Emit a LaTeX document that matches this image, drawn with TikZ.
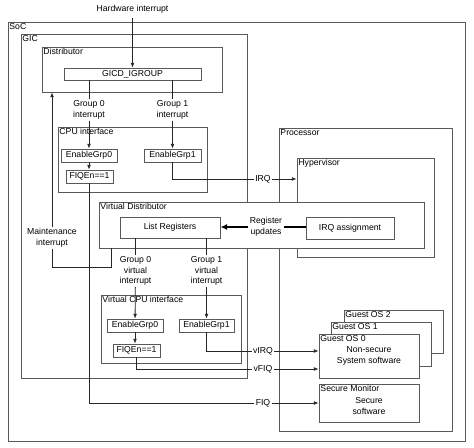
\documentclass[tikz,border=0pt]{standalone}
\usepackage{fontspec}
\setmainfont{Liberation Sans}
\usetikzlibrary{arrows.meta}

\tikzset{
  box/.style={draw=black!65, line width=0.6pt, fill=white, inner sep=0pt, align=center},
  boxtitle/.style={anchor=north west, inner sep=1.2pt},
  sig/.style={fill=white, inner sep=1pt, align=center},
  wire/.style={draw=black!85, line width=0.6pt},
  arr/.style={-{Latex[length=3.5pt,width=2.8pt]}},
}

\begin{document}
\begin{tikzpicture}[x=0.75pt,y=0.75pt,yscale=-1,xscale=1,
  every node/.style={font=\fontsize{6.5}{8}\selectfont}]
\path (0,0) rectangle (474,448);

%Shape: Rectangle -- SoC and GIC
\node[box, minimum width=342.75pt, minimum height=314.25pt, label={[boxtitle]north west:SoC}] (soc) at (236.5,231.5) {};
\node[box, minimum width=169.5pt, minimum height=258pt, label={[boxtitle]north west:GIC}] (gic) at (134,206) {};
%Shape: Rectangle -- distributor
\node[box, minimum width=135pt, minimum height=33.75pt, label={[boxtitle]north west:Distributor}] (dist) at (132,69.5) {};
\node[box, minimum width=102.75pt, minimum height=9pt] (igroup) at (132.5,74) {GICD\_IGROUP};
%Shape: Rectangle -- CPU interface
\node[box, minimum width=111.75pt, minimum height=48.75pt, label={[boxtitle]north west:CPU interface}] (cpuif) at (132.5,159.5) {};
\node[box, minimum width=42pt, minimum height=9.75pt] (grp0) at (89,155.5) {EnableGrp0};
\node[box, minimum width=42.75pt, minimum height=9.75pt] (grp1) at (172.5,155.5) {EnableGrp1};
\node[box, minimum width=35.25pt, minimum height=9.75pt] (fiqen) at (89.5,176.5) {FIQEn==1};
%Shape: Rectangle -- processor
\node[box, minimum width=129.75pt, minimum height=227.25pt, label={[boxtitle]north west:Processor}] (proc) at (365.5,279.5) {};
\node[box, minimum width=102.75pt, minimum height=74.25pt, label={[boxtitle]north west:Hypervisor}] (hyp) at (365.5,207.5) {};
%Shape: Rectangle -- virtual distributor
\node[box, minimum width=243.75pt, minimum height=34.5pt, label={[boxtitle]north west:Virtual Distributor}] (vdist) at (261.5,225) {};
\node[box, minimum width=75pt, minimum height=15.75pt] (lregs) at (170,227.5) {List Registers};
\node[box, minimum width=66pt, minimum height=16.5pt] (irqasg) at (350,228) {IRQ assignment};
%Shape: Rectangle -- virtual CPU interface
\node[box, minimum width=105pt, minimum height=51pt, label={[boxtitle]north west:Virtual CPU interface}] (vcpuif) at (171,329) {};
\node[box, minimum width=42pt, minimum height=9.75pt] (vgrp0) at (135,325.5) {EnableGrp0};
\node[box, minimum width=41.25pt, minimum height=9.75pt] (vgrp1) at (206.5,325.5) {EnableGrp1};
\node[box, minimum width=35.25pt, minimum height=9.75pt] (vfiqen) at (136.5,350.5) {FIQEn==1};
%Shape: Rectangle -- guests and monitor
\node[box, minimum width=74.25pt, minimum height=32.25pt, label={[boxtitle]north west:Guest OS 2}] (guest2) at (393.5,331.5) {};
\node[box, minimum width=75pt, minimum height=33pt, label={[boxtitle]north west:Guest OS 1}] (guest1) at (381,344) {};
\node[box, minimum width=75pt, minimum height=33pt, label={[boxtitle]north west:Guest OS 0}] (guest0) at (369,356) {Non-secure\\System software};
\node[box, minimum width=75pt, minimum height=28.5pt, label={[boxtitle]north west:Secure Monitor},
  label={[align=center,anchor=center,yshift=-2.5pt]center:Secure\\software}] (secmon) at (369,403) {};

%Text labels on the wires
\node (hw) at (132.5,9) {Hardware interrupt};
\node[sig] (g0int) at (89,110) {Group 0\\interrupt};
\node[sig] (g1int) at (172.5,110) {Group 1\\interrupt};
\node[sig] (irq) at (263,179) {IRQ};
\node[sig] (fiq) at (263,403) {FIQ};
\node[sig] (maint) at (52,238) {Maintenance\\interrupt};
\node[sig] (regupd) at (266,227) {Register\\updates};
\node[sig] (vg0int) at (135.5,271) {Group 0\\virtual\\interrupt};
\node[sig] (vg1int) at (206.5,271) {Group 1\\virtual\\interrupt};
\node[sig] (virq) at (263,351) {vIRQ};
\node[sig] (vfiq) at (263,369) {vFIQ};
\coordinate (mtbend) at (111,267);

%Straight Lines -- physical side
\draw[wire,arr] (hw) -- (igroup);
\draw[wire] (igroup.south -| g0int) -- (g0int);
\draw[wire,arr] (g0int) -- (grp0);
\draw[wire] (igroup.south -| g1int) -- (g1int);
\draw[wire,arr] (g1int) -- (grp1);
\draw[wire,arr] (grp0) -- (grp0 |- fiqen.north);
\draw[wire] (grp1) |- (irq);
\draw[wire,arr] (irq) -- (hyp.west |- irq);
\draw[wire] (fiqen) |- (fiq);
\draw[wire,arr] (fiq) -- (secmon.west |- fiq);
\draw[wire] (vdist.south -| mtbend) -- (mtbend) -| (maint);
\draw[wire,arr] (maint) -- (dist.south -| maint);
%Straight Lines -- virtual side
\draw[line width=1.4pt] (irqasg.west |- regupd) -- (regupd);
\draw[line width=1.4pt,-{Latex[length=5pt,width=4.5pt]}] (regupd) -- (lregs.east |- regupd);
\draw[wire] (lregs.south -| vg0int) -- (vg0int);
\draw[wire,arr] (vg0int) -- (vgrp0);
\draw[wire] (lregs.south -| vg1int) -- (vg1int);
\draw[wire,arr] (vg1int) -- (vgrp1);
\draw[wire,arr] (vgrp0) -- (vgrp0 |- vfiqen.north);
\draw[wire] (vgrp1) |- (virq);
\draw[wire,arr] (virq) -- (guest0.west |- virq);
\draw[wire] (vfiqen) |- (vfiq);
\draw[wire,arr] (vfiq) -- (guest0.west |- vfiq);

\end{tikzpicture}
\end{document}
